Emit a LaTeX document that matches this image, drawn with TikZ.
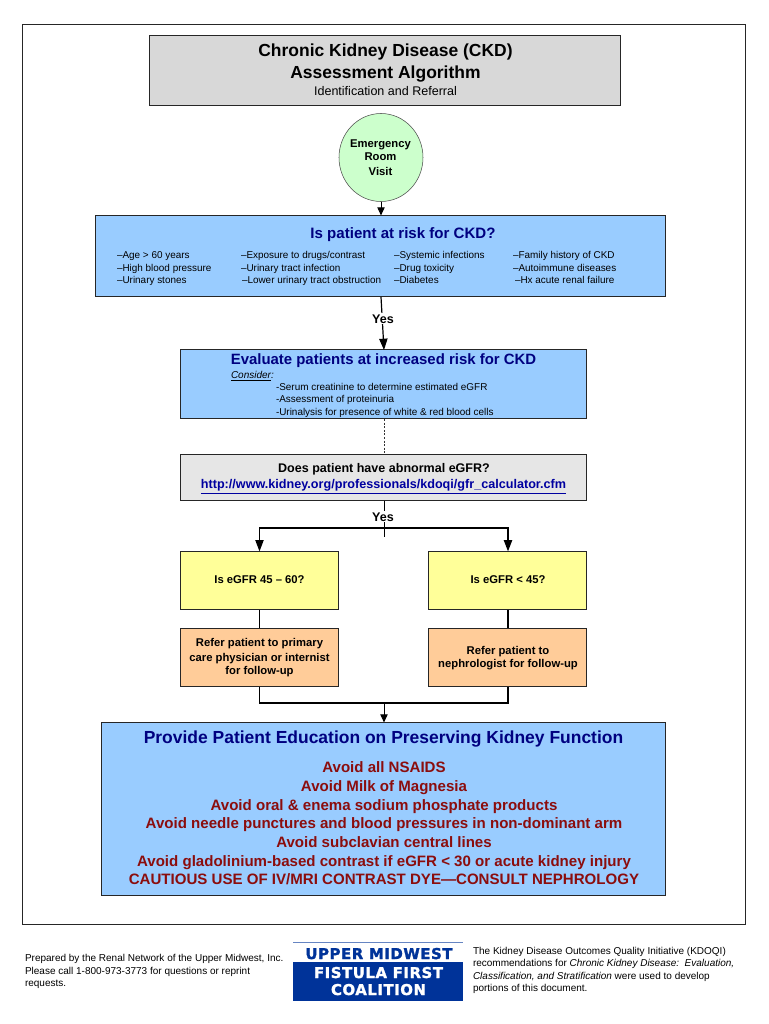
\documentclass[tikz,border=0pt]{standalone}
\usepackage{fontspec}
\setmainfont{Liberation Sans}
\newfontfamily\logofont[LetterSpace=3.5,BoldFeatures={FakeBold=1.5}]{DejaVu Sans}
\usetikzlibrary{shapes.geometric,arrows.meta}
\definecolor{hdrgray}{HTML}{D8D8D8}
\definecolor{lightgray}{HTML}{E6E6E6}
\definecolor{skyb}{HTML}{99CCFF}
\definecolor{navy}{HTML}{000080}
\definecolor{linkb}{HTML}{0000A0}
\definecolor{yell}{HTML}{FFFF99}
\definecolor{peach}{HTML}{FFCC99}
\definecolor{mint}{HTML}{CCFFCC}
\definecolor{darkred}{HTML}{8B0D0D}
\definecolor{logoblue}{HTML}{003399}
\newcommand{\fs}[1]{\fontsize{#1}{#1}\selectfont}
\tikzset{
  x=0.75pt,y=-0.75pt,
  box/.style={draw=black!85,line width=0.6pt,inner sep=0,outer sep=0,anchor=north west,align=center},
  lbl/.style={inner sep=0,outer sep=0,anchor=base},
  small/.style={lbl,anchor=base west,font=\fs{7.45}},
  ln/.style={draw=black,line width=0.9pt},
  arr/.style={ln,-{Triangle[length=8.5pt,width=6.2pt]}},
  smallarr/.style={ln,line width=0.6pt,-{Triangle[length=6pt,width=5.5pt]}},
  edu/.style={lbl,font=\bfseries\fs{11.3},text=darkred},
  foot/.style={lbl,anchor=base west,font=\fs{7.5}},
  yeslbl/.style={lbl,fill=white,inner ysep=1pt,font=\bfseries\fs{9.4}},
  bold84/.style={lbl,font=\bfseries\fs{8.45}},
  logotxt/.style={lbl,font=\logofont\bfseries\fs{11.2}},
}
\newcommand{\bx}[6]{\node[box,fill=#5,minimum width=#3*0.75pt,minimum height=#4*0.75pt] (#6) at (#1-0.6,#2-0.6) {};}
\begin{document}
\begin{tikzpicture}
\useasboundingbox (0,0) rectangle (768,1024);
\fill[white] (0,0) rectangle (768,1024);
\bx{23}{25}{723}{900}{white}{outer}
% header
\bx{150}{36}{471}{70}{hdrgray}{hdr}
\node[lbl,font=\bfseries\fs{13.1}] (t1) at (385.5,56.7) {Chronic Kidney Disease (CKD)};
\node[lbl,font=\bfseries\fs{13.1}] (t2) at (385.5,78.5) {Assessment Algorithm};
\node[lbl,font=\fs{9.4}] (t3) at (385.5,95) {Identification and Referral};
% circle
\node[ellipse,draw=black!70,line width=0.4pt,fill=mint,minimum width=84*0.75pt,minimum height=88*0.75pt,inner sep=0,outer sep=0] (er) at (381,157.5) {};
\node[bold84] (er1) at (380.5,147) {Emergency};
\node[bold84] (er2) at (380.5,160.7) {Room};
\node[bold84] (er3) at (380.5,175) {Visit};
% risk
\bx{96}{216}{570}{81}{skyb}{risk}
\node[lbl,font=\bfseries\fs{11.3},text=navy] (rt) at (403,238) {Is patient at risk for CKD?};
\node[small] (r11) at (117,258.7) {–Age > 60 years};
\node[small] (r12) at (117,271) {–High blood pressure};
\node[small] (r13) at (117,283.3) {–Urinary stones};
\node[small] (r21) at (241,258.7) {–Exposure to drugs/contrast};
\node[small] (r22) at (241,271) {–Urinary tract infection};
\node[small] (r23) at (242,283.3) {–Lower urinary tract obstruction};
\node[small] (r31) at (394,258.7) {–Systemic infections};
\node[small] (r32) at (394,271) {–Drug toxicity};
\node[small] (r33) at (394,283.3) {–Diabetes};
\node[small] (r41) at (513,258.7) {–Family history of CKD};
\node[small] (r42) at (513,271) {–Autoimmune diseases};
\node[small] (r43) at (515,283.3) {–Hx acute renal failure};
% evaluate
\bx{181}{350}{406}{69}{skyb}{eval}
\node[lbl,font=\bfseries\fs{11.2},text=navy] (et) at (383.5,364) {Evaluate patients at increased risk for CKD};
\node[small,font=\itshape\fs{7.5}] (ec) at (231,378) {\underline{Consider}:};
\node[small] (e1) at (276,390) {-Serum creatinine to determine estimated eGFR};
\node[small] (e2) at (276,402.3) {-Assessment of proteinuria};
\node[small] (e3) at (276,415) {-Urinalysis for presence of white \& red blood cells};
% does
\bx{181}{455}{406}{46}{lightgray}{does}
\node[lbl,font=\bfseries\fs{9.4}] (d1) at (384,472.7) {Does patient have abnormal eGFR?};
\node[lbl,font=\bfseries\fs{9.46},text=linkb] (d2) at (383.5,488.3) {\underline{http://www.kidney.org/professionals/kdoqi/gfr\_calculator.cfm}};
% yellow, orange
\bx{181}{552}{158}{58}{yell}{y1}
\bx{429}{552}{158}{58}{yell}{y2}
\node[bold84] (y1t) at (259.5,583.3) {Is eGFR 45 – 60?};
\node[bold84] (y2t) at (508,583.3) {Is eGFR < 45?};
\bx{181}{629}{158}{58}{peach}{o1}
\bx{429}{629}{158}{58}{peach}{o2}
\node[bold84] (o1a) at (259.5,646.7) {Refer patient to primary};
\node[bold84] (o1b) at (259.5,661) {care physician or internist};
\node[bold84] (o1c) at (259.5,674.3) {for follow-up};
\node[bold84] (o2a) at (508,654) {Refer patient to};
\node[bold84] (o2b) at (508,667.3) {nephrologist for follow-up};
% education
\bx{102}{723}{564}{173}{skyb}{edu}
\node[lbl,font=\bfseries\fs{13.1},text=navy] (h) at (383.5,743) {Provide Patient Education on Preserving Kidney Function};
\node[edu] (a1) at (384,772) {Avoid all NSAIDS};
\node[edu] (a2) at (384,791) {Avoid Milk of Magnesia};
\node[edu] (a3) at (384,810) {Avoid oral \& enema sodium phosphate products};
\node[edu] (a4) at (384,828) {Avoid needle punctures and blood pressures in non-dominant arm};
\node[edu] (a5) at (384,847) {Avoid subclavian central lines};
\node[edu] (a6) at (384,866) {Avoid gladolinium-based contrast if eGFR < 30 or acute kidney injury};
\node[edu] (a7) at (384,884) {CAUTIOUS USE OF IV/MRI CONTRAST DYE—CONSULT NEPHROLOGY};
% connectors
\draw[smallarr] (er.south) -- (er.south |- risk.north);
\coordinate (rs) at (381,297);
\coordinate (en) at (384,350);
\draw[arr] (rs) -- (en);
\node[yeslbl] (yes1) at (383,323) {Yes};
\coordinate (es) at (384,419);
\coordinate (dn) at (384,455);
\draw[black!80,line width=0.6pt,dash pattern=on 1.5pt off 1.2pt] (es) -- (dn);
\coordinate (ds) at (384,501);
\coordinate (tj) at (384,537);
\coordinate (tl) at (259.5,528);
\coordinate (tr) at (508,528);
\draw[ln,line width=0.6pt] (ds) -- (tj);
\node[yeslbl] (yes2) at (383,521) {Yes};
\draw[arr,line width=0.8pt] (tl -| tj) -- (tl) -- (tl |- y1.north);
\draw[arr,line width=1.1pt] (tr -| tj) -- (tr) -- (tr |- y2.north);
\coordinate (y1s) at (259.5,610);
\coordinate (y2s) at (508,610);
\coordinate (o1s) at (259.5,687);
\coordinate (o2s) at (508,687);
\coordinate (mj) at (384,703);
\draw[ln,line width=0.6pt] (y1s) -- (y1s |- o1.north);
\draw[ln,line width=1.2pt] (y2s) -- (y2s |- o2.north);
\draw[ln,line width=1.1pt] (o1s) |- (mj) -| (o2s);
\draw[smallarr] (mj) -- (mj |- edu.north);
% footer
\node[foot] (f1) at (25,961) {Prepared by the Renal Network of the Upper Midwest, Inc.};
\node[foot] (f2) at (25,974) {Please call 1-800-973-3773 for questions or reprint};
\node[foot] (f3) at (25,986.7) {requests.};
\node[inner sep=0,outer sep=0,anchor=north west,fill=logoblue,minimum width=170*0.75pt,minimum height=59*0.75pt] (logo) at (293,942) {};
\fill[white] (293,943) rectangle (463,962);
\draw[logoblue!60,line width=0.4pt] (293,942.5) -- (463,942.5);
\node[logotxt,text=logoblue] (l1) at (379,959) {UPPER MIDWEST};
\node[logotxt,text=white] (l2) at (378.5,978) {FISTULA FIRST};
\node[logotxt,text=white] (l3) at (378.5,995) {COALITION};
\node[foot] (g1) at (473,954.3) {The Kidney Disease Outcomes Quality Initiative (KDOQI)};
\node[foot] (g2) at (473,966.7) {recommendations for \textit{Chronic Kidney Disease:\ \ Evaluation,}};
\node[foot] (g3) at (473,979.3) {\textit{Classification, and Stratification} were used to develop};
\node[foot] (g4) at (473,991.7) {portions of this document.};
\end{tikzpicture}
\end{document}
